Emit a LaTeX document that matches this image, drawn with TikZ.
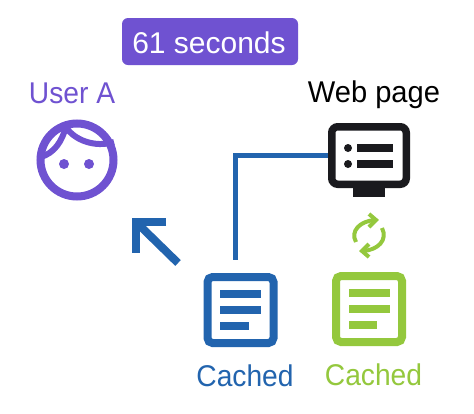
\documentclass[tikz,border=0pt]{standalone}
\usepackage{fontspec}
\setmainfont{Liberation Sans}
\newfontfamily\narrowlab[FakeStretch=0.94]{Liberation Sans}
\newfontfamily\webfont[FakeStretch=0.97]{Liberation Sans}
\definecolor{pur}{HTML}{6F52D1}
\definecolor{blu}{HTML}{2264AE}
\definecolor{grn}{HTML}{94C83D}
\definecolor{blk}{HTML}{1A1A1E}
\tikzset{
  lab/.style={inner sep=0pt,anchor=base,font=\fontsize{30}{30}\selectfont},
  docbox/.style={draw=#1,line width=8pt,rounded corners=5pt,minimum width=66pt,minimum height=66pt,inner sep=0pt,fill=white},
  link/.style={draw=blu,line width=5.5pt},
  flow/.style={draw=blu,line width=8pt,miter limit=10},
  cyc/.style={draw=grn,line width=4pt}
}
\begin{document}
\begin{tikzpicture}[x=1pt,y=-1pt]
\useasboundingbox (0,0) rectangle (474,413);
\fill[white] (0,0) rectangle (474,413);
% badge
\node[fill=pur,rounded corners=6pt,minimum width=176pt,minimum height=47pt,inner sep=0pt] (badge) at (210,41.5) {};
\node[lab,text=white] (badgetext) at (209,53) {61 seconds};
% user
\node[lab,text=pur] (usera) at (72,103) {\narrowlab User A};
\node[circle,draw=pur,line width=8pt,minimum size=73pt,inner sep=0pt] (face) at (77,160) {};
\draw[pur,line width=6pt] (66,126) .. controls (62,142) and (54,153) .. (41,157);
\draw[pur,line width=6pt] (66,127) .. controls (74,140) and (95,148) .. (114,142);
\node[circle,fill=pur,minimum size=10pt,inner sep=0pt] (eyel) at (64,164) {};
\node[circle,fill=pur,minimum size=10pt,inner sep=0pt] (eyer) at (89,164) {};
% web page
\node[lab,text=black] (webpage) at (374,102) {\webfont Web page};
\fill[blk] (353,186) rectangle (385,197);
\node[draw=blk,fill=white,line width=7.5pt,rounded corners=6pt,minimum width=74.5pt,minimum height=57.5pt,inner sep=0pt] (monitor) at (369,155.5) {};
\fill[blk] (348,148) circle (4);
\fill[blk] (348,164) circle (4);
\fill[blk] (357,144) rectangle (393,151.5);
\fill[blk] (357,160) rectangle (393,168);
% cycle icon
\draw[cyc] (356,242) .. controls (350,231) and (360,221) .. (375,220);
\draw[cyc] (369,214) -- (376,220) -- (369,227);
\draw[cyc] (382,228) .. controls (388,240) and (378,250) .. (363,251);
\draw[cyc] (369,244) -- (362,251) -- (369,257);
% docs
\node[docbox=blu] (docblue) at (240.5,310) {};
\fill[blu] (220,290) rectangle (261,297.5);
\fill[blu] (220,306) rectangle (261,314);
\fill[blu] (220,322) rectangle (248.5,330);
\node[docbox=grn] (docgreen) at (369,309) {};
\fill[grn] (348.5,289) rectangle (389.5,296.5);
\fill[grn] (348.5,305) rectangle (389.5,313);
\fill[grn] (348.5,321) rectangle (377,329);
\node[lab,text=blu] (cachedb) at (245,386) {\narrowlab Cached};
\node[lab,text=grn] (cachedg) at (373.5,385) {\narrowlab Cached};
% connector
\coordinate (linkend) at (235.5,260);
\draw[link] (monitor.west) -| (linkend);
% arrow
\coordinate (arrowtail) at (178,263);
\coordinate (arrowtip) at (136,222);
\coordinate (headx) at (166,222);
\coordinate (heady) at (136,253);
\draw[flow] (arrowtail) -- (arrowtip);
\draw[flow] (headx) -- (arrowtip) -- (heady);
\end{tikzpicture}
\end{document}
